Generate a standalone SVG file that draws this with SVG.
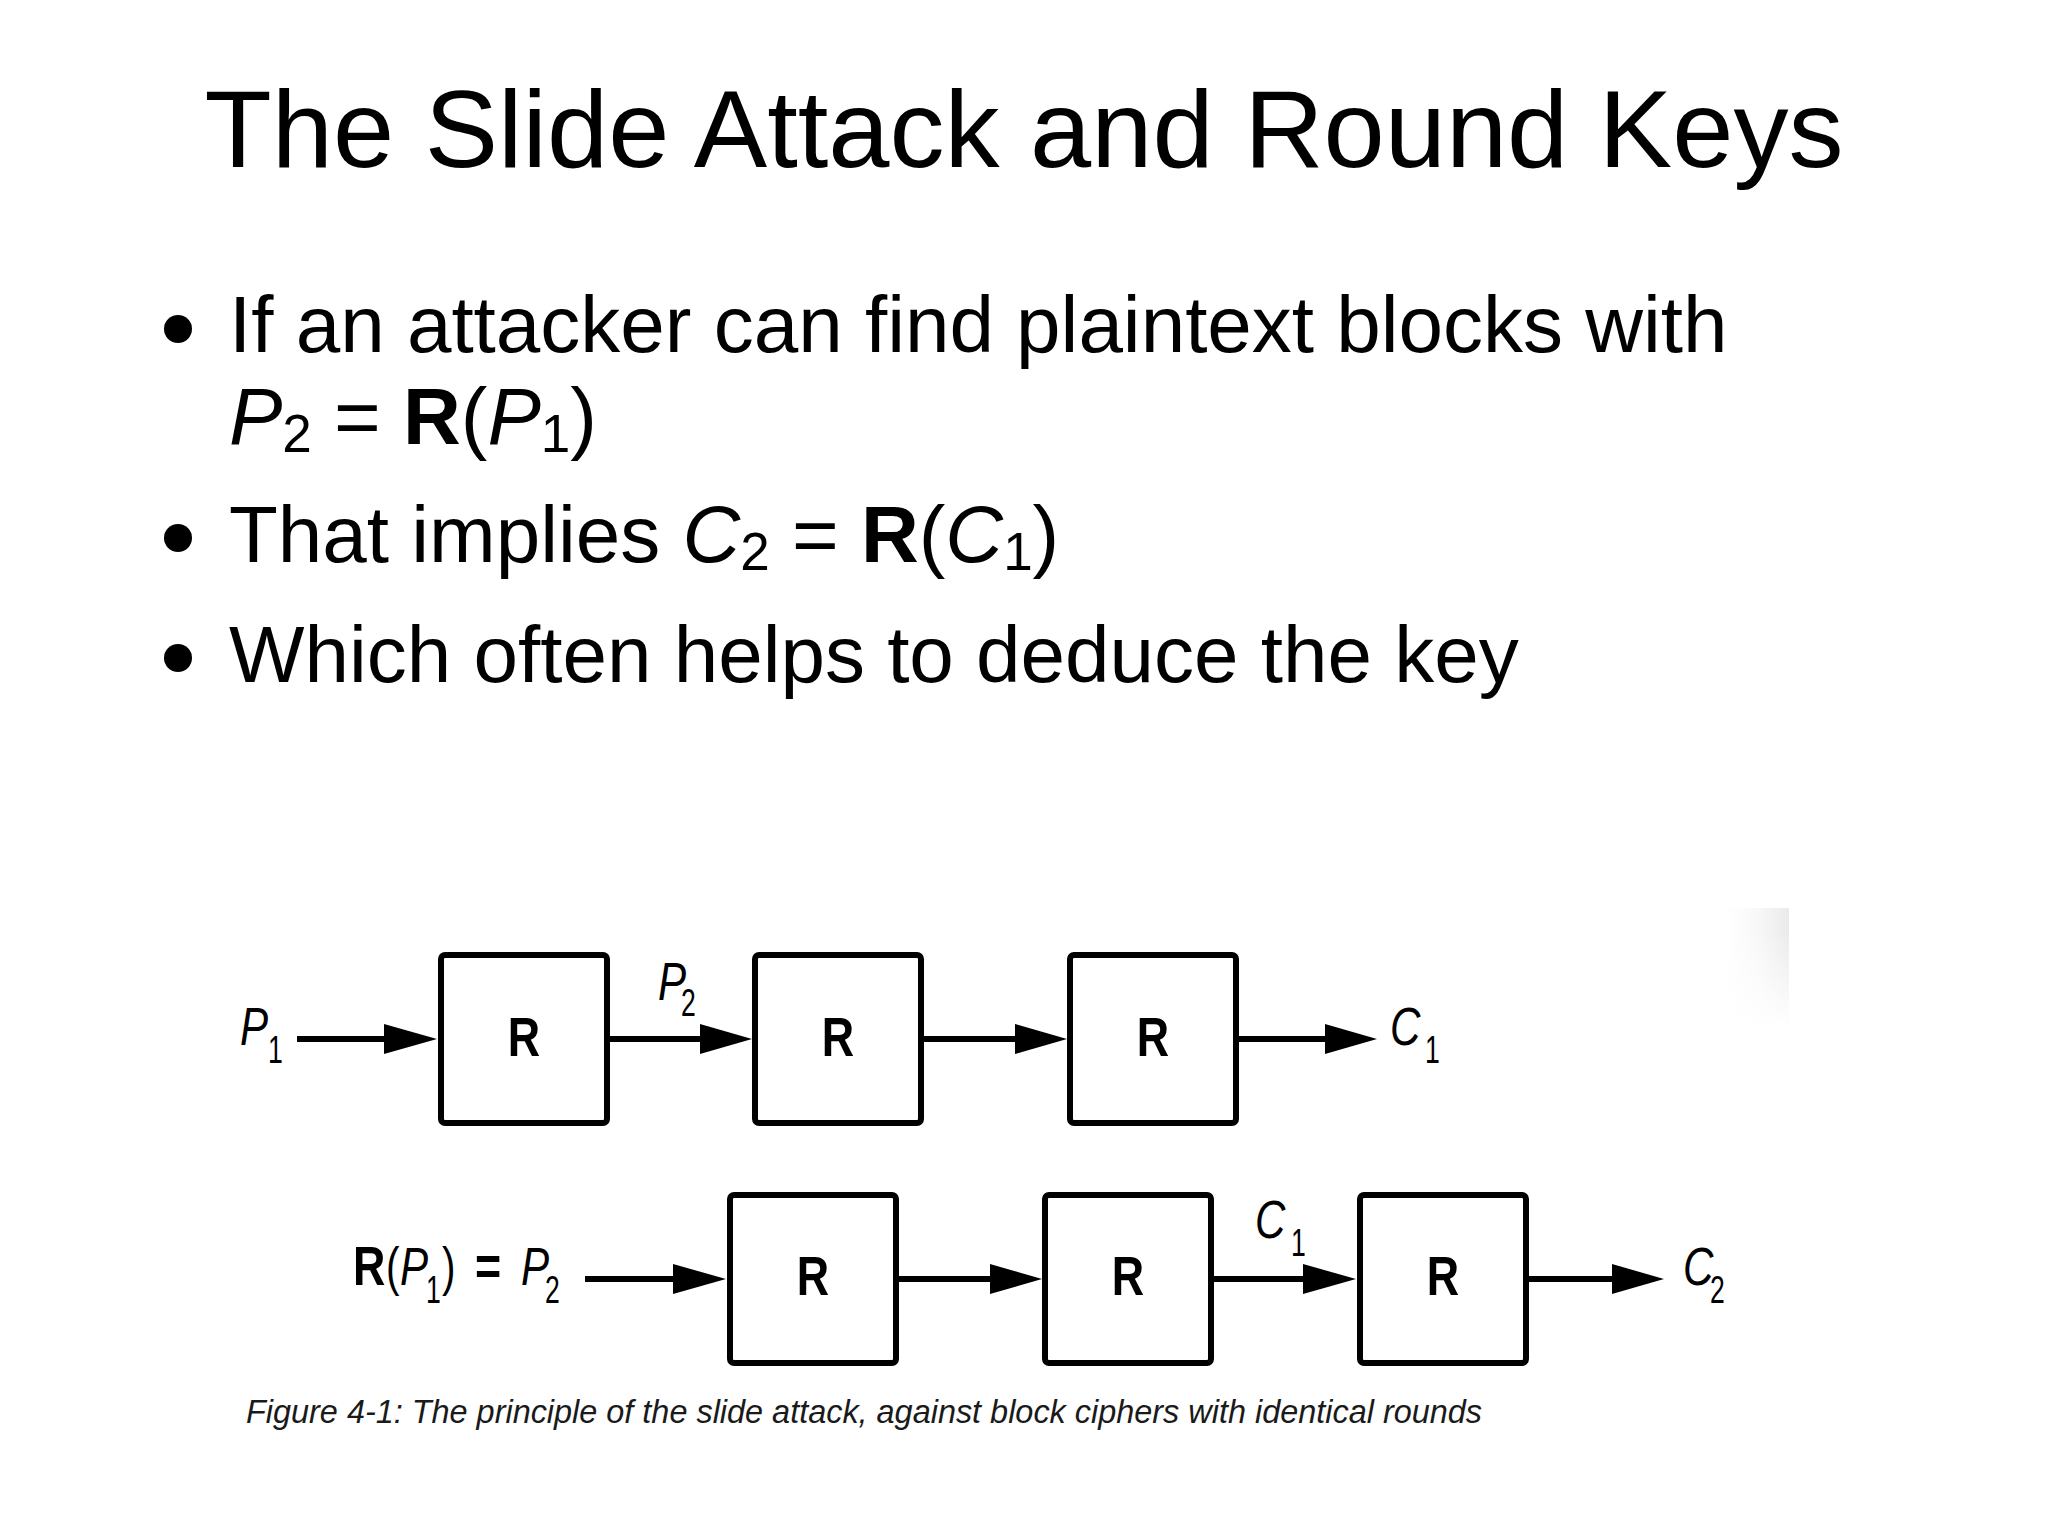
<svg xmlns="http://www.w3.org/2000/svg" width="2048" height="1536" viewBox="0 0 2048 1536">
<defs>
<style>
text{font-family:"Liberation Sans",Arial,sans-serif;fill:#000}
.title{font-size:110px}
.body{font-size:80px}
.box{fill:#fff;stroke:#000;stroke-width:6}
.line{stroke:#000;stroke-width:6;fill:none}
.head{fill:#000}
.rl{font-size:56px;font-weight:bold}
.it{font-size:54px;font-style:italic}
.par{font-size:54px;font-style:normal}
.sub{font-size:38px}
.cap{font-size:33px;font-style:italic;fill:#1a1a1a}
</style>
<linearGradient id="shade" x1="0" y1="0" x2="1" y2="0">
<stop offset="0" stop-color="#ffffff"/>
<stop offset="0.5" stop-color="#f8f8f8"/>
<stop offset="1" stop-color="#eaeaea"/>
</linearGradient>
<linearGradient id="fadeDown" x1="0" y1="0" x2="0" y2="1">
<stop offset="0" stop-color="#fff" stop-opacity="0"/>
<stop offset="1" stop-color="#fff" stop-opacity="1"/>
</linearGradient>
</defs>
<rect width="2048" height="1536" fill="#fff"/>

<g id="title">
<text class="title" x="1024" y="167" text-anchor="middle">The Slide Attack and Round Keys</text>
</g>

<g id="bullets">
<circle cx="178" cy="329" r="14"/>
<circle cx="178" cy="538" r="14"/>
<circle cx="178" cy="658" r="14"/>
<text class="body" x="229" y="352">If an attacker can find plaintext blocks with</text>
<text class="body" x="229" y="444"><tspan font-style="italic">P</tspan><tspan font-size="53" dy="8">2</tspan><tspan dy="-8"> = </tspan><tspan font-weight="bold">R</tspan>(<tspan font-style="italic">P</tspan><tspan font-size="53" dy="8">1</tspan><tspan dy="-8">)</tspan></text>
<text class="body" x="229" y="562">That implies <tspan font-style="italic">C</tspan><tspan font-size="53" dy="8">2</tspan><tspan dy="-8"> = </tspan><tspan font-weight="bold">R</tspan>(<tspan font-style="italic">C</tspan><tspan font-size="53" dy="8">1</tspan><tspan dy="-8">)</tspan></text>
<text class="body" x="229" y="682">Which often helps to deduce the key</text>
</g>

<g id="figure-shade">
<rect x="1727" y="908" width="62" height="118" fill="url(#shade)"/>
<rect x="1727" y="930" width="62" height="98" fill="url(#fadeDown)"/>
</g>

<g id="connectors">
<line class="line" x1="297" y1="1039" x2="400" y2="1039"/>
<polygon class="head" points="384,1024 437,1039 384,1054"/>
<line class="line" x1="610" y1="1039" x2="715" y2="1039"/>
<polygon class="head" points="700,1024 752,1039 700,1054"/>
<line class="line" x1="924" y1="1039" x2="1030" y2="1039"/>
<polygon class="head" points="1015,1024 1067,1039 1015,1054"/>
<line class="line" x1="1239" y1="1039" x2="1340" y2="1039"/>
<polygon class="head" points="1325,1024 1377,1039 1325,1054"/>

<line class="line" x1="585" y1="1279" x2="690" y2="1279"/>
<polygon class="head" points="673,1264 726,1279 673,1294"/>
<line class="line" x1="899" y1="1279" x2="1005" y2="1279"/>
<polygon class="head" points="990,1264 1042,1279 990,1294"/>
<line class="line" x1="1214" y1="1279" x2="1320" y2="1279"/>
<polygon class="head" points="1303,1264 1356,1279 1303,1294"/>
<line class="line" x1="1529" y1="1279" x2="1630" y2="1279"/>
<polygon class="head" points="1612,1264 1664,1279 1612,1294"/>
</g>

<g id="r1-box1"><rect class="box" x="441" y="955" width="166" height="168" rx="4"/><text class="rl" transform="matrix(0.8 0 0 1 524 1056)" text-anchor="middle">R</text></g>
<g id="r1-box2"><rect class="box" x="755" y="955" width="166" height="168" rx="4"/><text class="rl" transform="matrix(0.8 0 0 1 838 1056)" text-anchor="middle">R</text></g>
<g id="r1-box3"><rect class="box" x="1070" y="955" width="166" height="168" rx="4"/><text class="rl" transform="matrix(0.8 0 0 1 1153 1056)" text-anchor="middle">R</text></g>

<g id="r2-box1"><rect class="box" x="730" y="1195" width="166" height="168" rx="4"/><text class="rl" transform="matrix(0.8 0 0 1 813 1295)" text-anchor="middle">R</text></g>
<g id="r2-box2"><rect class="box" x="1045" y="1195" width="166" height="168" rx="4"/><text class="rl" transform="matrix(0.8 0 0 1 1128 1295)" text-anchor="middle">R</text></g>
<g id="r2-box3"><rect class="box" x="1360" y="1195" width="166" height="168" rx="4"/><text class="rl" transform="matrix(0.8 0 0 1 1443 1295)" text-anchor="middle">R</text></g>

<g id="label-P1">
<text class="it" transform="matrix(0.78 0 0 1 240 1045)">P</text>
<text class="sub" transform="matrix(0.7 0 0 1 268 1063)">1</text>
</g>
<g id="label-P2-top">
<text class="it" transform="matrix(0.78 0 0 1 658 1000)">P</text>
<text class="sub" transform="matrix(0.7 0 0 1 681 1016)">2</text>
</g>
<g id="label-C1-top">
<text class="it" transform="matrix(0.78 0 0 1 1390 1045)">C</text>
<text class="sub" transform="matrix(0.7 0 0 1 1425 1063)">1</text>
</g>
<g id="label-RP1">
<text class="rl" transform="matrix(0.8 0 0 1 353 1285)">R</text>
<text class="par" transform="matrix(0.75 0 0 1 386 1285)">(</text>
<text class="it" transform="matrix(0.78 0 0 1 400 1285)">P</text>
<text class="sub" transform="matrix(0.7 0 0 1 426 1303)">1</text>
<text class="par" transform="matrix(0.75 0 0 1 442 1285)">)</text>
<text class="rl" transform="matrix(0.8 0 0 1 475 1285)">=</text>
<text class="it" transform="matrix(0.78 0 0 1 521 1285)">P</text>
<text class="sub" transform="matrix(0.7 0 0 1 545 1303)">2</text>
</g>
<g id="label-C1-bottom">
<text class="it" transform="matrix(0.78 0 0 1 1255 1238)">C</text>
<text class="sub" transform="matrix(0.7 0 0 1 1291 1256)">1</text>
</g>
<g id="label-C2">
<text class="it" transform="matrix(0.78 0 0 1 1683 1285)">C</text>
<text class="sub" transform="matrix(0.7 0 0 1 1710 1303)">2</text>
</g>

<g id="caption">
<text class="cap" x="246" y="1423" textLength="1236" lengthAdjust="spacingAndGlyphs">Figure 4-1: The principle of the slide attack, against block ciphers with identical rounds</text>
</g>
</svg>
